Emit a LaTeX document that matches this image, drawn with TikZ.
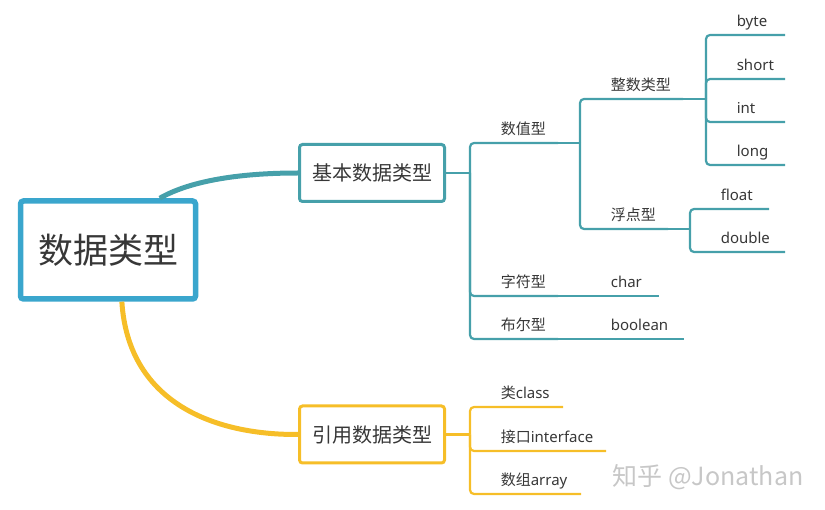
\documentclass[tikz,border=0pt]{standalone}
\usepackage{fontspec}
\setmainfont{Noto Sans}
\newfontfamily\cjk{Noto Sans CJK SC}
\definecolor{rootblue}{RGB}{58,166,205}
\definecolor{tealline}{RGB}{70,160,170}
\definecolor{amber}{RGB}{246,190,40}
\definecolor{inkgray}{RGB}{55,55,55}
\tikzset{
  rootbox/.style={
    rectangle,
    rounded corners=3pt,
    draw=rootblue, line width=5.5pt,
    minimum width=175pt,
    minimum height=98pt,
    text=inkgray,
    font=\cjk\fontsize{35}{40}\selectfont},
  topicbox/.style={
    rectangle,
    rounded corners=3pt,
    draw=#1, line width=3pt,
    minimum width=145pt,
    minimum height=57pt,
    text=inkgray,
    font=\cjk\fontsize{20}{24}\selectfont},
  leaf/.style={
    anchor=south east,
    inner xsep=0pt, inner ysep=8pt,
    text depth=0pt,
    text width=#1,
    align=left,
    text=inkgray,
    font=\fontsize{15}{18}\selectfont},
  branch/.style={draw=#1, line width=2.2pt, rounded corners=4pt},
  stem/.style={draw=#1, line width=5pt},
  watermark/.style={text=black!22, font=\cjk\fontsize{25}{30}\selectfont},
}
\begin{document}
\begin{tikzpicture}[x=1pt, y=-1pt]
     \useasboundingbox (0,0) rectangle (825,510);
     % main topics
     \node[rootbox] (Root) at (108,250) {数据类型};
     \node[topicbox=tealline] (Basic) at (372,173) {基本数据类型};
     \node[topicbox=amber] (Ref) at (372,434.5) {引用数据类型};
     \draw[stem=tealline] (Root.45) .. controls (188,182) and (235,173) .. (Basic.west);
     \draw[stem=amber] (Root.-75) .. controls (128,400) and (210,435) .. (Ref.west);
     % basic types
     \coordinate (BasicFork) at (470,173);
     \node[leaf=57pt] (NumType)  at (558,143) {\cjk 数值型};
     \node[leaf=57pt] (CharType) at (558,296) {\cjk 字符型};
     \node[leaf=57pt] (BoolType) at (558,339) {\cjk 布尔型};
     \draw[branch=tealline] (Basic.east) -- (BasicFork);
     \draw[branch=tealline] (BasicFork) |- (NumType.south east);
     \draw[branch=tealline] (BasicFork) |- (CharType.south east);
     \draw[branch=tealline] (BasicFork) |- (BoolType.south east);
     % numeric types
     \coordinate (NumFork) at (580,143);
     \node[leaf=72pt] (IntType)   at (683,99)  {\cjk 整数类型};
     \node[leaf=57pt] (FloatType) at (668,229) {\cjk 浮点型};
     \draw[branch=tealline] (NumType.south east) -- (NumFork);
     \draw[branch=tealline] (NumFork) |- (IntType.south east);
     \draw[branch=tealline] (NumFork) |- (FloatType.south east);
     % integer types
     \coordinate (IntFork) at (706,99);
     \node[leaf=48pt] (Byte)  at (785,35)  {byte};
     \node[leaf=48pt] (Short) at (785,79)  {short};
     \node[leaf=48pt] (Int)   at (785,122) {int};
     \node[leaf=48pt] (Long)  at (785,165) {long};
     \draw[branch=tealline] (IntType.south east) -- (IntFork);
     \draw[branch=tealline] (IntFork) |- (Byte.south east);
     \draw[branch=tealline] (IntFork) |- (Short.south east);
     \draw[branch=tealline] (IntFork) |- (Int.south east);
     \draw[branch=tealline] (IntFork) |- (Long.south east);
     % floating types
     \coordinate (FloatFork) at (690,229);
     \node[leaf=48pt] (Float)  at (769,209) {float};
     \node[leaf=64pt] (Double) at (785,252) {double};
     \draw[branch=tealline] (FloatType.south east) -- (FloatFork);
     \draw[branch=tealline] (FloatFork) |- (Float.south east);
     \draw[branch=tealline] (FloatFork) |- (Double.south east);
     % char and boolean
     \coordinate (CharFork) at (580,296);
     \coordinate (BoolFork) at (580,339);
     \node[leaf=48pt] (Char)    at (659,296) {char};
     \node[leaf=73pt] (Boolean) at (684,339) {boolean};
     \draw[branch=tealline] (CharType.south east) -- (CharFork) -- (Char.south east);
     \draw[branch=tealline] (BoolType.south east) -- (BoolFork) -- (Boolean.south east);
     % reference types
     \coordinate (RefFork) at (470,434.5);
     \node[leaf=62pt]  (Class)     at (563,407) {{\cjk 类}class};
     \node[leaf=105pt] (Interface) at (606,451) {{\cjk 接口}interface};
     \node[leaf=80pt]  (Array)     at (581,494) {{\cjk 数组}array};
     \draw[branch=amber] (Ref.east) -- (RefFork);
     \draw[branch=amber] (RefFork) |- (Class.south east);
     \draw[branch=amber] (RefFork) |- (Interface.south east);
     \draw[branch=amber] (RefFork) |- (Array.south east);
     \node[watermark] (Mark) at (708,477) {知乎 @Jonathan};
\end{tikzpicture}
\end{document}
